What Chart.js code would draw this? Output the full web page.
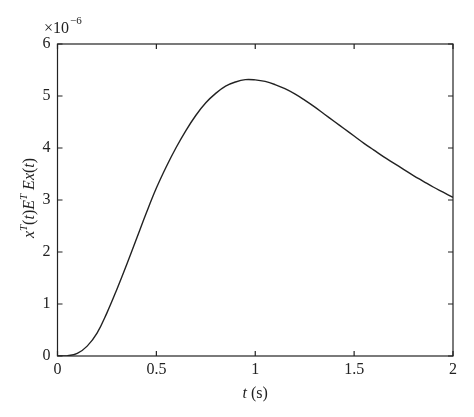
<!DOCTYPE html>
<html>
<head>
<meta charset="utf-8">
<script src="https://cdn.jsdelivr.net/npm/chart.js@4/dist/chart.umd.min.js"></script>
<style>
	html, body { margin: 0; padding: 0; background: #fff; }
	#wrap { width: 474px; height: 417px; }
</style>
</head>
<body>
<div id="wrap"><canvas id="energyChart" width="474" height="417"></canvas></div>
<script>
// time samples (s)
const times = [ 0, 0.05, 0.1, 0.15, 0.2, 0.25, 0.3, 0.35, 0.4, 0.45, 0.5, 0.55, 0.6, 0.65, 0.7, 0.75, 0.8, 0.85, 0.9, 0.95, 1.0,
	1.05, 1.1, 1.15, 1.2, 1.25, 1.3, 1.35, 1.4, 1.45, 1.5, 1.55, 1.6, 1.65, 1.7, 1.75, 1.8, 1.85, 1.9, 1.95, 2.0 ]
// x^T(t) E^T E x(t), in units of 1e-6
const energy = [ 0, 0.005, 0.05, 0.19, 0.44, 0.83, 1.28, 1.76, 2.26, 2.76, 3.23, 3.64, 4.01, 4.34, 4.63, 4.87, 5.05, 5.19, 5.27, 5.315, 5.31,
	5.28, 5.22, 5.14, 5.04, 4.92, 4.79, 4.65, 4.51, 4.37, 4.23, 4.09, 3.96, 3.83, 3.71, 3.59, 3.47, 3.36, 3.25, 3.15, 3.05 ]
const xTicks = [ 0, 0.5, 1, 1.5, 2 ]
const yTicks = [ 0, 1, 2, 3, 4, 5, 6 ]

const serif = '"Liberation Serif", "DejaVu Serif", serif'
const ink = '#222'

// box frame, inward ticks, axis titles and the exponent label
const matlabFrame = {
	id: 'matlabFrame',
	afterDraw( chart ) {
		const { ctx, chartArea: a, scales } = chart
		ctx.save()
		ctx.strokeStyle = ink
		ctx.lineWidth = 1.2
		ctx.strokeRect( a.left, a.top, a.right - a.left, a.bottom - a.top )
		ctx.beginPath()
		xTicks.forEach( v => {
			const px = scales.x.getPixelForValue( v )
			ctx.moveTo( px, a.bottom ); ctx.lineTo( px, a.bottom - 5 )
			ctx.moveTo( px, a.top ); ctx.lineTo( px, a.top + 5 )
		} )
		yTicks.forEach( v => {
			const py = scales.y.getPixelForValue( v )
			ctx.moveTo( a.left, py ); ctx.lineTo( a.left + 5, py )
			ctx.moveTo( a.right, py ); ctx.lineTo( a.right - 5, py )
		} )
		ctx.stroke()

		ctx.fillStyle = ink
		ctx.textBaseline = 'alphabetic'
		// x title: t (s)
		const xt = [ [ 'italic 16px ' + serif, 't' ], [ '16px ' + serif, ' (s)' ] ]
		let w = 0
		xt.forEach( p => { ctx.font = p[0]; w += ctx.measureText( p[1] ).width } )
		let cx = ( a.left + a.right ) / 2 - w / 2
		xt.forEach( p => { ctx.font = p[0]; ctx.textAlign = 'left'; ctx.fillText( p[1], cx, 398 ); cx += ctx.measureText( p[1] ).width } )

		// y title: x^T(t)E^T Ex(t), rotated
		const yt = [
			[ 'italic 16px ' + serif, 'x', 0 ], [ 'italic 11px ' + serif, 'T', -7 ],
			[ '16px ' + serif, '(', 0 ], [ 'italic 16px ' + serif, 't', 0 ], [ '16px ' + serif, ')', 0 ],
			[ 'italic 16px ' + serif, 'E', 0 ], [ 'italic 11px ' + serif, 'T', -7 ],
			[ 'italic 16px ' + serif, ' Ex', 0 ], [ '16px ' + serif, '(', 0 ], [ 'italic 16px ' + serif, 't', 0 ], [ '16px ' + serif, ')', 0 ]
		]
		w = 0
		yt.forEach( p => { ctx.font = p[0]; w += ctx.measureText( p[1] ).width } )
		ctx.save()
		ctx.translate( 34, 198 )
		ctx.rotate( -Math.PI / 2 )
		cx = -w / 2
		yt.forEach( p => { ctx.font = p[0]; ctx.textAlign = 'left'; ctx.fillText( p[1], cx, p[2] ); cx += ctx.measureText( p[1] ).width } )
		ctx.restore()

		// exponent label
		ctx.font = '16px ' + serif
		ctx.textAlign = 'left'
		ctx.fillText( '\u00d710', 44, 33 )
		const ew = ctx.measureText( '\u00d710' ).width
		ctx.font = '11px ' + serif
		ctx.fillText( '\u22126', 44 + ew + 1, 24 )
		ctx.restore()
	}
}

new Chart( document.getElementById( 'energyChart' ), {
	type: 'scatter',
	data: {
		datasets: [ {
			data: times.map( ( t, i ) => ( { x: t, y: energy[i] } ) ),
			showLine: true,
			borderColor: ink,
			borderWidth: 1.4,
			pointRadius: 0,
			tension: 0.4
		} ]
	},
	options: {
		responsive: false,
		animation: false,
		layout: { padding: { left: 0, top: 44, right: 21, bottom: 0 } },
		plugins: {
			legend: { display: false },
			tooltip: { enabled: false }
		},
		scales: {
			x: {
				type: 'linear',
				min: 0,
				max: 2,
				afterBuildTicks: s => { s.ticks = xTicks.map( v => ( { value: v } ) ) },
				afterFit: s => { s.height = 61 },
				grid: { display: false, drawTicks: false },
				border: { display: false },
				ticks: { color: ink, font: { family: serif, size: 16 }, padding: 4, maxRotation: 0, callback: v => String( v ) }
			},
			y: {
				min: 0,
				max: 6,
				afterBuildTicks: s => { s.ticks = yTicks.map( v => ( { value: v } ) ) },
				afterFit: s => { s.width = 57.5 },
				grid: { display: false, drawTicks: false },
				border: { display: false },
				ticks: { color: ink, font: { family: serif, size: 16 }, padding: 7, callback: v => String( v ) }
			}
		}
	},
	plugins: [ matlabFrame ]
} )
</script>
</body>
</html>
